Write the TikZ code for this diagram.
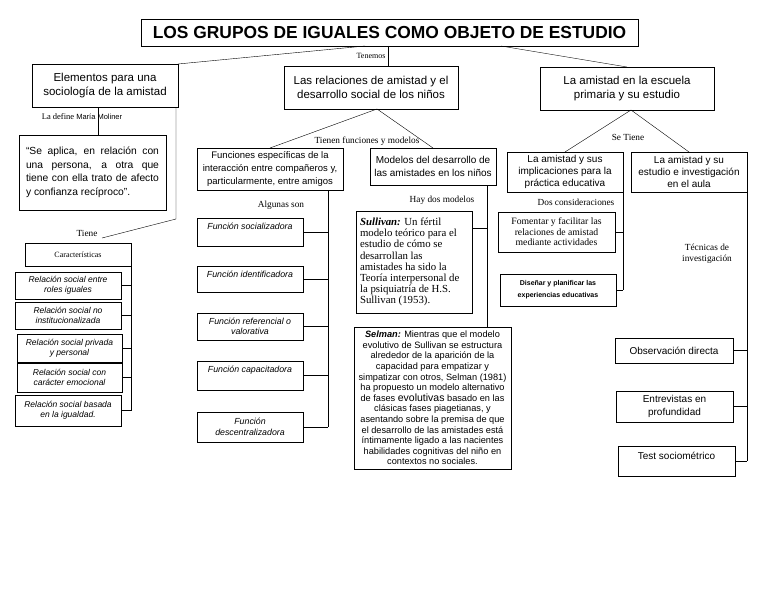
\documentclass[tikz,border=0pt]{standalone}
\usepackage{fontspec}
\setmainfont{Liberation Sans}
\newfontfamily\timesf{Liberation Serif}
\usepackage{tikz}

\begin{document}
\begin{tikzpicture}[x=1pt,y=-1pt]
			\fill[white] (0,0) rectangle (768,594);
			\useasboundingbox (0,0) rectangle (768,594);
			\tikzstyle{every node}=[inner sep=0pt, outer sep=0pt]
			\tikzstyle{caja}=[draw, line width=0.8pt, anchor=north west, align=center]
			\tikzstyle{grande}=[font=\fontsize{11.5}{13.5}\selectfont]
			\tikzstyle{medio}=[font=\fontsize{10}{12.3}\selectfont]
			\tikzstyle{rasgo}=[font=\fontsize{8.5}{10}\selectfont\itshape]
			\tikzstyle{funcion}=[font=\fontsize{8.8}{10.5}\selectfont\itshape]
			\tikzstyle{etiqueta}=[font=\timesf\fontsize{9.3}{11.5}\selectfont, align=center]
			
			\node[caja, minimum width=497, minimum height=27, font=\fontsize{17.4}{20}\selectfont\bfseries] (titulo) at (141,19) {LOS GRUPOS DE IGUALES COMO OBJETO DE ESTUDIO};
			\node[caja, grande, minimum width=146, minimum height=43] (elem) at (32,64) {Elementos para una\\sociología de la amistad};
			\node[caja, grande, minimum width=174, minimum height=43] (relac) at (284,66) {Las relaciones de amistad y el\\desarrollo social de los niños};
			\node[caja, grande, minimum width=174, minimum height=43] (escuela) at (540,67) {La amistad en la escuela\\primaria y su estudio};
			
			\node[caja, minimum width=147, minimum height=75, text width=133, align=flush left, font=\fontsize{10.3}{13.5}\selectfont] (cita) at (19,135) {\makebox[\linewidth][s]{“Se aplica, en relación con}\\\makebox[\linewidth][s]{una persona, a otra que}\\\makebox[\linewidth][s]{tiene con ella trato de afecto}\\y confianza recíproco”.};
			\node[caja, minimum width=106, minimum height=23, font=\timesf\fontsize{8}{9}\selectfont] (carac) at (25,243) {Características};
			\node[caja, rasgo, minimum width=106, minimum height=27] (r1) at (15,272) {Relación social entre\\roles iguales};
			\node[caja, rasgo, minimum width=106, minimum height=27] (r2) at (15,302) {Relación social no\\institucionalizada};
			\node[caja, rasgo, minimum width=105, minimum height=28] (r3) at (17,334) {Relación social privada\\y personal};
			\node[caja, rasgo, minimum width=105, minimum height=29] (r4) at (17,363) {Relación social con\\carácter emocional};
			\node[caja, rasgo, minimum width=106, minimum height=31] (r5) at (15,395) {Relación social basada\\en la igualdad.};
			
			\node[caja, minimum width=146, minimum height=42, font=\fontsize{9.5}{13}\selectfont] (funciones) at (197,148) {Funciones específicas de la\\interacción entre compañeros y,\\particularmente, entre amigos};
			\node[caja, medio, minimum width=126, minimum height=37] (modelos) at (370,148) {Modelos del desarrollo de\\las amistades en los niños};
			\node[caja, funcion, minimum width=106, minimum height=28, text depth=11] (f1) at (197,218) {Función socializadora};
			\node[caja, funcion, minimum width=106, minimum height=26, text depth=10] (f2) at (197,266) {Función identificadora};
			\node[caja, funcion, minimum width=106, minimum height=27] (f3) at (197,313) {Función referencial o\\valorativa};
			\node[caja, funcion, minimum width=106, minimum height=29, text depth=12] (f4) at (197,361) {Función capacitadora};
			\node[caja, funcion, minimum width=106, minimum height=30] (f5) at (197,412) {Función\\descentralizadora};
			
			\node[caja, minimum width=116, minimum height=102, text width=108, align=flush left, font=\timesf\fontsize{10.8}{11.2}\selectfont] (sullivan) at (356,211) {\textbf{\textit{Sullivan:}} Un fértil\\modelo teórico para el\\estudio de cómo se\\desarrollan las\\amistades ha sido la\\Teoría interpersonal de\\la psiquiatría de H.S.\\Sullivan (1953).};
			\node[caja, minimum width=157, minimum height=142, font=\fontsize{9.2}{10.6}\selectfont] (selman) at (354,327) {\textbf{\textit{Selman:}} Mientras que el modelo\\evolutivo de Sullivan se estructura\\alrededor de la aparición de la\\capacidad para empatizar y\\simpatizar con otros, Selman (1981)\\ha propuesto un modelo alternativo\\de fases {\fontsize{10.5}{10.6}\selectfont evolutivas} basado en las\\clásicas fases piagetianas, y\\asentando sobre la premisa de que\\el desarrollo de las amistades está\\íntimamente ligado a las nacientes\\habilidades cognitivas del niño en\\contextos no sociales.};
			
			\node[caja, medio, minimum width=116, minimum height=40] (implic) at (507,152) {La amistad y sus\\implicaciones para la\\práctica educativa};
			\node[caja, medio, minimum width=116, minimum height=40] (estudio) at (631,152) {La amistad y su\\estudio e investigación\\en el aula};
			\node[caja, minimum width=117, minimum height=40, font=\timesf\fontsize{9.7}{10.5}\selectfont] (fomentar) at (498,212) {Fomentar y facilitar las\\relaciones de amistad\\mediante actividades};
			\node[caja, minimum width=116, minimum height=32, font=\fontsize{7}{12}\selectfont\bfseries] (disenar) at (500,274) {Diseñar y planificar las\\experiencias educativas};
			\node[caja, medio, minimum width=118, minimum height=25] (observ) at (615,338) {Observación directa};
			\node[caja, medio, minimum width=117, minimum height=31] (entrev) at (616,391) {Entrevistas en\\profundidad};
			\node[caja, medio, minimum width=117, minimum height=30, text depth=10] (test) at (618,446) {Test sociométrico};
			
			\tikzstyle{every node}=[]
			
			\node[etiqueta] (tenemos) at (371,56) {\fontsize{8}{9}\selectfont Tenemos};
			\node[etiqueta] (ladefine) at (82,117) {\fontsize{8.5}{9}\selectfont La define {\rmfamily\fontsize{7.5}{9}\selectfont María Moliner}};
			\node[etiqueta] (tiene) at (87,233) {Tiene};
			\node[etiqueta] (tienen) at (367,141) {Tienen funciones y modelos};
			\node[etiqueta] (algunas) at (281,205) {Algunas son};
			\node[etiqueta] (haydos) at (442,200) {Hay dos modelos};
			\node[etiqueta] (setiene) at (628,137) {Se Tiene};
			\node[etiqueta] (doscons) at (576,202) {Dos consideraciones};
			\node[etiqueta] (tecnicas) at (707,254) {Técnicas de\\investigación};
			
			\coordinate (t1) at (365,46);
			\coordinate (t2) at (388,46);
			\coordinate (t3) at (501,46);
			\draw (t1) to (elem.north east);
			\draw (t2) to (t2 |- relac.north);
			\draw (t3) to (escuela.north);
			
			\coordinate (d1) at (98,107);
			\coordinate (d2) at (176,107);
			\coordinate (d3) at (176,219);
			\coordinate (d4) at (102,238);
			\draw (d1) to (d1 |- cita.north);
			\draw (d2) to (d3) to (d4);
			\draw (carac.north east) to (carac.north east |- r5.east);
			\foreach \r in {r1,r2,r3,r4,r5}
				\draw (\r.east) to (\r.east -| carac.east);
			
			\coordinate (a2) at (377,109);
			\coordinate (fx) at (328,190);
			\coordinate (mx) at (487,185);
			\draw (funciones.north) to (a2) to (modelos.north);
			\draw (fx) to (fx |- f5.east);
			\foreach \f in {f1,f2,f3,f4,f5}
				\draw (\f.east) to (\f.east -| fx);
			\draw (mx) to (mx |- selman.north);
			\draw (sullivan.30) to (sullivan.30 -| mx);
			
			\coordinate (a3) at (631,110);
			\draw (implic.north) to (a3) to (estudio.north);
			\draw (implic.south east) to (implic.south east |- disenar.east);
			\draw (fomentar.east) to (fomentar.east -| implic.east);
			\draw (disenar.east) to (disenar.east -| implic.east);
			\draw (estudio.south east) to (estudio.south east |- test.east);
			\foreach \t in {observ,entrev,test}
				\draw (\t.east) to (\t.east -| estudio.east);
\end{tikzpicture}
\end{document}
